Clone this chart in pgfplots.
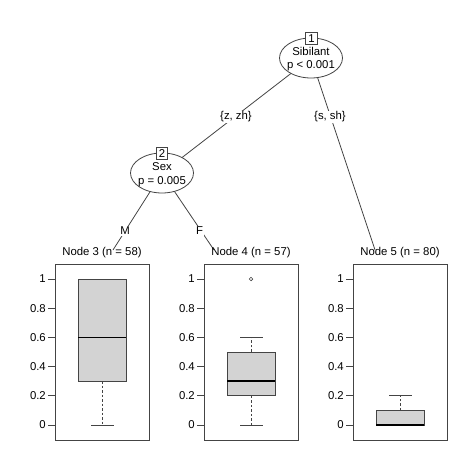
\documentclass[border=0pt]{standalone}
\usepackage{fontspec}
\setmainfont{Liberation Sans}
\usepackage{pgfplots}
\pgfplotsset{compat=1.18}
\usepgfplotslibrary{statistics}

\definecolor{boxfill}{HTML}{D3D3D3}
\definecolor{linecol}{HTML}{444444}

\newcommand{\lab}{\fontsize{11.4}{13}\selectfont}

\pgfplotsset{
  nodepanel/.style={
    scale only axis, width=94bp, height=176bp,
    anchor=south west,
    xmin=0, xmax=2, ymin=-0.103, ymax=1.103,
    xtick=\empty,
    ytick={0,0.2,0.4,0.6,0.8,1},
    ytick pos=left, tick align=outside, major tick length=7bp,
    axis line style={draw=linecol, line width=0.8bp},
    every tick/.style={draw=linecol, line width=0.8bp},
    /pgf/number format/assume math mode=true,
    yticklabel style={font=\lab, inner xsep=2bp},
    title style={font=\lab, at={(0.5,1)}, anchor=base, yshift=2.7bp, inner sep=0pt},
    boxplot/draw direction=y,
    boxplot/box extend=1.02,
    boxplot/whisker extend=0,
    boxplot/draw position=1,
    boxplot/every box/.style={draw=linecol, fill=boxfill, line width=0.8bp, solid},
    boxplot/every median/.style={draw=black, line width=1.8bp, solid},
    boxplot/every whisker/.style={draw=linecol, line width=0.8bp,
      dash pattern=on 2.5bp off 2bp},
  },
  % whisker ends, drawn as horizontal marks
  caps/.style={only marks, mark=-, mark size=11.5bp,
    mark options={draw=linecol, line width=0.8bp, solid}},
}

\begin{document}
\begin{tikzpicture}[x=1bp, y=1bp, font=\lab]
  \path[use as bounding box, fill=white] (0,0) rectangle (474,474);

  % tree edges
  \begin{scope}[draw=linecol, line width=0.8bp]
    \draw (311,416) -- (162,301);
    \draw (311,416) -- (375,224);
    \draw (162,301) -- (113,224);
    \draw (162,301) -- (214,224);
  \end{scope}

  % edge labels
  \node[fill=white, inner sep=1bp, anchor=base] at (236,354) {\{z, zh\}};
  \node[fill=white, inner sep=1bp, anchor=base] at (330,354) {\{s, sh\}};
  \node[fill=white, inner sep=1bp, anchor=base] at (125,239) {M};
  \node[fill=white, inner sep=1bp, anchor=base] at (199.5,239) {F};

  % inner nodes
  \draw[linecol, fill=white, line width=0.8bp] (311,416) ellipse [x radius=31.5, y radius=20];
  \draw[linecol, fill=white, line width=0.8bp] (162,301) ellipse [x radius=31.5, y radius=20];
  \draw[linecol, fill=white, line width=0.8bp] (305.75,429.75) rectangle (317.25,441.25);
  \draw[linecol, fill=white, line width=0.8bp] (156.25,314.75) rectangle (167.75,326.25);
  \node[anchor=base, inner sep=0pt] at (311.5,431.5) {1};
  \node[anchor=base, inner sep=0pt] at (162,316.5) {2};
  \node[anchor=base, inner sep=0pt] at (311,418) {Sibilant};
  \node[anchor=base, inner sep=0pt] at (311,405.7) {p < 0.001};
  \node[anchor=base, inner sep=0pt] at (162,303) {Sex};
  \node[anchor=base, inner sep=0pt] at (162,289.5) {p = 0.005};

  % terminal nodes
  \begin{axis}[nodepanel, at={(55bp,34bp)}, title={Node 3 (n = 58)}]
    \addplot[caps] coordinates {(1,0)};
    \addplot[boxplot prepared={lower whisker=0, lower quartile=0.3,
      median=0.6, upper quartile=1, upper whisker=1}] coordinates {};
  \end{axis}

  \begin{axis}[nodepanel, at={(204bp,34bp)}, title={Node 4 (n = 57)}]
    \addplot[caps] coordinates {(1,0) (1,0.6)};
    \addplot[boxplot prepared={lower whisker=0, lower quartile=0.2,
      median=0.3, upper quartile=0.5, upper whisker=0.6},
      mark=o, mark size=1.8bp, mark options={draw=linecol, line width=0.6bp, solid}]
      coordinates {(0,1)};
  \end{axis}

  \begin{axis}[nodepanel, at={(353bp,34bp)}, title={Node 5 (n = 80)}]
    \addplot[caps] coordinates {(1,0.2)};
    \addplot[boxplot prepared={lower whisker=0, lower quartile=0,
      median=0, upper quartile=0.1, upper whisker=0.2}] coordinates {};
  \end{axis}
\end{tikzpicture}
\end{document}
